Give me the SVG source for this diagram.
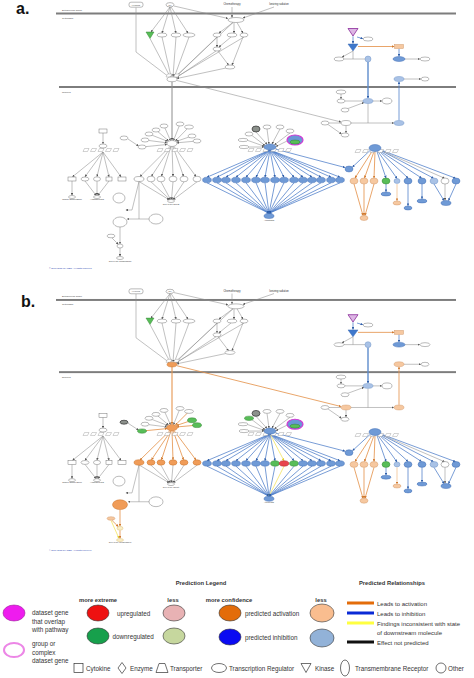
<svg xmlns="http://www.w3.org/2000/svg" width="474" height="678" viewBox="0 0 474 678">
<style>
text{font-family:"Liberation Sans",Arial,sans-serif;fill:#222}
.t{font-size:2.3px;text-anchor:middle;fill:#333}
.tl{font-size:2.4px;fill:#444}
.w{fill:#fff;stroke:#666;stroke-width:.45}
.b{fill:#6f9ad6;stroke:#3a68b0;stroke-width:.45}
.lb{fill:#a9c2e6;stroke:#6a90c4;stroke-width:.45}
.o{fill:#f09c58;stroke:#c56c22;stroke-width:.45}
.lo{fill:#f6c8a0;stroke:#cf9465;stroke-width:.45}
.g{fill:#58bd58;stroke:#2a7f2a;stroke-width:.45}
.r{fill:#e8454e;stroke:#a32020;stroke-width:.45}
.dk{fill:#8c918c;stroke:#2e2e2e;stroke-width:.7}
.ly{fill:#f9eec6;stroke:#d6b877;stroke-width:.45}
.cx{fill:#fff;stroke:#808080;stroke-width:.35}
.e,.en,.eb,.eo,.ey,.et,.eol{fill:none}
.e{stroke:#8c8c8c;stroke-width:.55;marker-end:url(#ag)}
.en{stroke:#8c8c8c;stroke-width:.55}
.eb{stroke:#4a7bc8;stroke-width:.75;marker-end:url(#ab)}
.eo{stroke:#e5954f;stroke-width:.85;marker-end:url(#ao)}
.eol{stroke:#f2c291;stroke-width:.8;marker-end:url(#ao)}
.ey{stroke:#f3e45f;stroke-width:.8;marker-end:url(#ay)}
.et{stroke:#5d8ccc;stroke-width:1.4;marker-end:url(#ab)}
.bar{fill:#7d7d7d}
.lg{font-size:6.3px;fill:#333}
.lh{font-size:5.8px;font-weight:bold;fill:#333;text-anchor:middle}
.ls{fill:none;stroke:#333;stroke-width:.7}
.pl{font-size:16px;font-weight:bold;fill:#111}
</style>
<defs>
<marker id="ag" viewBox="0 0 6 6" refX="5.5" refY="3" markerUnits="userSpaceOnUse" markerWidth="2.4" markerHeight="2.4" orient="auto"><path d="M0,0L6,3L0,6z" fill="#555"/></marker>
<marker id="ab" viewBox="0 0 6 6" refX="5.5" refY="3" markerUnits="userSpaceOnUse" markerWidth="2.6" markerHeight="2.6" orient="auto"><path d="M0,0L6,3L0,6z" fill="#2f5ea8"/></marker>
<marker id="ao" viewBox="0 0 6 6" refX="5.5" refY="3" markerUnits="userSpaceOnUse" markerWidth="2.6" markerHeight="2.6" orient="auto"><path d="M0,0L6,3L0,6z" fill="#d07a30"/></marker>
<marker id="ay" viewBox="0 0 6 6" refX="5.5" refY="3" markerUnits="userSpaceOnUse" markerWidth="2.6" markerHeight="2.6" orient="auto"><path d="M0,0L6,3L0,6z" fill="#e0cc30"/></marker>
</defs>
<rect width="474" height="678" fill="#fff"/>
<text class="pl" x="16" y="14">a.</text>
<text class="pl" x="21" y="307">b.</text>

<!-- ================= PANEL A ================= -->
<g id="panel-a">
<rect class="bar" x="56" y="12.5" width="400" height="2"/>
<rect class="bar" x="59" y="86" width="397" height="2"/>
<text class="tl" x="62" y="11">Extracellular space</text>
<text class="tl" x="62" y="18.5">Cytoplasm</text>
<text class="tl" x="62" y="92.5">Nucleus</text>
<text x="49" y="269" style="font-size:2.3px;fill:#2a3fb0">© 2000-2015 QIAGEN. All rights reserved.</text>
<g id="a-edges">
<path class="e" d="M136,7.5V52L169,77"/>
<path class="e" d="M170,7L151,32"/>
<path class="e" d="M170,7L162,33"/>
<path class="e" d="M170,7L176,33"/>
<path class="e" d="M171,7L188,33"/>
<path class="e" d="M174,6L228,18.5"/>
<path class="e" d="M232,7V17.5"/>
<path class="e" d="M274,7L243,18"/>
<path class="e" d="M233,22.5L219,33"/>
<path class="e" d="M234,22.5V33"/>
<path class="e" d="M237,22.5L243,33"/>
<path class="e" d="M217,37V47"/>
<path class="e" d="M231,37L219,47"/>
<path class="e" d="M218,51L228.5,65"/>
<path class="e" d="M243,37L232,65"/>
<path class="e" d="M150,38.5L170,76.5"/>
<path class="e" d="M162,37L171,76.5"/>
<path class="e" d="M176,37L173,76.5"/>
<path class="e" d="M189,37L174.5,76.5"/>
<path class="e" d="M233,22.5L175.5,76.5"/>
<path class="e" d="M217,37L176,76.8"/>
<path class="e" d="M244,37L176.5,77"/>
<path class="e" d="M216,51L176.5,77.5"/>
<path class="e" d="M226,68L177,78.5"/>
<path class="e" style="stroke-width:1" d="M172,81.8V140"/>
<path class="e" d="M177,80.5L341,122"/>
<path class="e" d="M353,51L342,57.2"/>
<path class="en" d="M353,51V59"/>
<path class="en" d="M344,59H365"/>
<path class="e" d="M341,94V98.8"/>
<path class="en" d="M345,101H363"/>
<path class="e" d="M373,101H381.8"/>
<path class="e" d="M348,108.5L364,102.5"/>
<path class="en" d="M329,123H341"/>
<path class="e" d="M351,123H393.8"/>
<path class="en" d="M368,103.5V123"/>
<path class="e" d="M346,125.5V132.8"/>
<path class="e" d="M328,124.5L341.5,134"/>
<path class="e" d="M405,59H419.8"/>
<path class="e" d="M404,79H420.8"/>
<path class="e" d="M103,133V143.8"/>
<path class="e" d="M103,152L72.5,176.8"/>
<path class="e" d="M103,152L85,176.8"/>
<path class="e" d="M103,152L97,176.6"/>
<path class="e" d="M103,152L109,176.8"/>
<path class="e" d="M103,152L121,176.8"/>
<path class="e" d="M72,181V195.3"/>
<path class="e" d="M85,181L96,195.3"/>
<path class="e" d="M97,181.3V195.3"/>
<path class="e" d="M109,181L98,195.3"/>
<path class="e" d="M145,140L166.8,142.8"/>
<path class="e" d="M149,134L167.5,141.3"/>
<path class="e" d="M156,130L168.5,140.8"/>
<path class="e" d="M164,126L170.5,140.5"/>
<path class="e" d="M180,124L173.5,140.5"/>
<path class="e" d="M189,127L175.5,140.8"/>
<path class="e" d="M192,136L176.5,141.3"/>
<path class="e" d="M197,141L177,142.8"/>
<path class="e" d="M142,147L167,144.5"/>
<path class="e" d="M128,139L138.5,146"/>
<path class="e" d="M170,146.5L140,176.5"/>
<path class="e" d="M171,146.5L151.5,176.2"/>
<path class="e" d="M171,146.5L161.5,176.2"/>
<path class="e" d="M172,146.5L173,176.2"/>
<path class="e" d="M173,146.5L183.5,176.2"/>
<path class="e" d="M174,146.5L196,176.5"/>
<path class="e" d="M139,181.5L169,199.7"/>
<path class="e" d="M151,181.8L170,199.6"/>
<path class="e" d="M161,181.8L170.5,199.5"/>
<path class="e" d="M173,181.8L171.5,199.5"/>
<path class="e" d="M184,181.8L172.5,199.5"/>
<path class="e" d="M197,181.8L173.5,199.6"/>
<path class="e" d="M139,181.5L132,210H125.8"/>
<path class="e" d="M139,181.5V219H127.2"/>
<path class="en" d="M149,219H139"/>
<path class="e" d="M120,227V243.8"/>
<path class="e" d="M112,238L118.3,244.3"/>
<path class="e" d="M120,248V256.3"/>
<path class="e" d="M256,132L267,144.3"/>
<path class="e" d="M267,129L269,144"/>
<path class="e" d="M280,129L272,144"/>
<path class="e" d="M290,133L274.5,144.8"/>
<path class="e" d="M252,135.5L265,145.5"/>
<path class="e" d="M248,140.5L264.3,146.3"/>
<path class="e" d="M249,147H263.8"/>
<path class="e" d="M287,141L276,146.5"/>
<path class="eb" d="M270,150L207,177.2"/>
<path class="eb" d="M270,150L217,177.2"/>
<path class="eb" d="M270,150L226,177.2"/>
<path class="eb" d="M270,150L236,177.2"/>
<path class="eb" d="M270,150L246,177.2"/>
<path class="eb" d="M270,150L256,177.2"/>
<path class="eb" d="M270,150L265,177.2"/>
<path class="eb" d="M270,150L275,177.2"/>
<path class="eb" d="M270,150L284,177.2"/>
<path class="eb" d="M270,150L294,177.2"/>
<path class="eb" d="M270,150L303,177.2"/>
<path class="eb" d="M270,150L312,177.2"/>
<path class="eb" d="M270,150L321,177.2"/>
<path class="eb" d="M270,150L331,177.2"/>
<path class="eb" d="M270,150L340,177.2"/>
<path class="eb" d="M207,182.8L269,213.3"/>
<path class="eb" d="M217,182.8L269,213.3"/>
<path class="eb" d="M226,182.8L269,213.3"/>
<path class="eb" d="M236,182.8L269,213.3"/>
<path class="eb" d="M246,182.8L269,213.3"/>
<path class="eb" d="M256,182.8L269,213.3"/>
<path class="eb" d="M265,182.8L269,213.3"/>
<path class="eb" d="M275,182.8L269,213.3"/>
<path class="eb" d="M284,182.8L269,213.3"/>
<path class="eb" d="M294,182.8L269,213.3"/>
<path class="eb" d="M303,182.8L269,213.3"/>
<path class="eb" d="M312,182.8L269,213.3"/>
<path class="eb" d="M321,182.8L269,213.3"/>
<path class="eb" d="M331,182.8L269,213.3"/>
<path class="eb" d="M340,182.8L269,213.3"/>
<path class="eb" d="M275,149L345,167.5"/>
<path class="eb" d="M370,150.5L352.5,167"/>
<path class="eo" d="M372,151.5L355,178"/>
<path class="eo" d="M374,151.5L364.5,178"/>
<path class="eo" d="M375,151.5L374,178"/>
<path class="eo" d="M354,184L363,215.5"/>
<path class="eo" d="M364,184V215.5"/>
<path class="eo" d="M374,184L365,215.5"/>
<path class="eb" d="M377,151.5L386,178"/>
<path class="eb" d="M378,151.5L397,178.5"/>
<path class="eb" d="M379,151L408,178"/>
<path class="eb" d="M380,151L421.5,178"/>
<path class="eb" d="M381,150.5L433.5,178.2"/>
<path class="e" d="M381,150.5L444.5,178.2"/>
<path class="eb" d="M381,150L455.5,178.2"/>
<path class="eb" d="M386,184V191.8"/>
<path class="eol" d="M397,184V200.8"/>
<path class="eb" d="M408,184V205.8"/>
<path class="eb" d="M422,184V198.8"/>
<path class="eb" d="M434,184L444,200.6"/>
<path class="e" d="M445,184V200.3"/>
<path class="eb" d="M456,184L448.5,200.6"/>
<path class="eb" d="M353,36.3V43.5"/>
<path class="eb" d="M357,37L362.8,38.6"/>
<path class="eb" d="M399,48.8V56.3"/>
<path class="et" d="M368,62V98"/>
<path class="eb" d="M399,120.3V81.8"/>
<path class="eo" d="M358,46.5H394.3"/>
</g>
<g id="a-hypoxia"><rect class="w" x="129" y="2.2" width="14" height="5" rx="2"/><text class="t" x="136" y="5.5">Hypoxia</text></g>
<g id="a-uv"><ellipse class="w" cx="170" cy="4.8" rx="4" ry="2.2"/><text class="t" x="170" y="5.6">UV</text></g>
<g id="a-chemo"><text class="t" x="232" y="5.3" style="font-size:2.6px">Chemotherapy</text></g>
<g id="a-ion"><text class="t" x="279" y="5.3" style="font-size:2.6px">Ionizing radiation</text></g>
<g id="a-k1"><polygon class="g" points="146,32 154,32 150,38.5"/></g>
<g id="a-c1"><ellipse class="w" cx="162" cy="35" rx="5" ry="2"/></g>
<g id="a-c2"><ellipse class="w" cx="176" cy="35" rx="5" ry="2"/></g>
<g id="a-c3"><ellipse class="w" cx="189" cy="35" rx="6" ry="2"/></g>
<g id="a-atm"><ellipse class="w" cx="236" cy="20" rx="8" ry="2.5"/></g>
<g id="a-r1"><ellipse class="w" cx="217" cy="35" rx="4" ry="2"/></g>
<g id="a-r2"><ellipse class="w" cx="232" cy="35" rx="5" ry="2"/></g>
<g id="a-r3"><ellipse class="w" cx="244" cy="35" rx="4" ry="2"/></g>
<g id="a-r4"><ellipse class="w" cx="217" cy="49" rx="4" ry="2"/></g>
<g id="a-r5"><ellipse class="w" cx="230" cy="67" rx="5" ry="2"/></g>
<g id="a-p53c"><path class="cx" d="M166,77l1.5-3h4.5l-1.5,3z m7.5,0l1.5-3h4.5l-1.5,3z"/><ellipse class="w" cx="172" cy="79.3" rx="5" ry="2.4"/></g>
<g id="a-pt"><polygon points="348,28.5 358,28.5 353,36" fill="#dcb6e4" stroke="#8a2a9a" stroke-width=".8"/></g>
<g id="a-s1"><ellipse class="w" cx="368" cy="39" rx="5" ry="2"/></g>
<g id="a-bt"><polygon class="b" points="348,44 358,44 353,51" style="fill:#3f78cc"/></g>
<g id="a-or"><rect class="lo" x="394.5" y="44.5" width="9" height="4"/></g>
<g id="a-n59"><ellipse class="b" cx="399" cy="59" rx="6" ry="2.5"/></g>
<g id="a-n59r"><ellipse class="w" cx="425" cy="59" rx="5" ry="2"/></g>
<g id="a-n59l"><ellipse class="w" cx="339" cy="59" rx="5" ry="2"/></g>
<g id="a-n59m"><ellipse class="lb" cx="368" cy="59" rx="3" ry="3"/></g>
<g id="a-p21"><ellipse class="lb" cx="399" cy="79" rx="5" ry="2.5"/></g>
<g id="a-p21r"><ellipse class="w" cx="425" cy="79" rx="4" ry="2"/></g>
<g id="a-n92"><ellipse class="w" cx="341" cy="92" rx="5" ry="2"/></g>
<g id="a-n101l"><ellipse class="w" cx="341" cy="101" rx="4" ry="2"/></g>
<g id="a-n101m"><ellipse class="lb" cx="368" cy="101" rx="5" ry="2.5"/></g>
<g id="a-n101r"><ellipse class="w" cx="387" cy="101" rx="5" ry="3"/></g>
<g id="a-n110"><ellipse class="w" cx="345" cy="110" rx="4" ry="2"/></g>
<g id="a-n123l"><ellipse class="w" cx="325" cy="123" rx="4" ry="2"/></g>
<g id="a-n123"><ellipse class="w" cx="346" cy="123" rx="5" ry="2.5"/></g>
<g id="a-n123r"><ellipse class="lb" cx="399" cy="123" rx="5" ry="2.5"/></g>
<g id="a-n135"><ellipse class="w" cx="345" cy="135" rx="4" ry="2"/></g>
<g id="a-l0"><rect class="w" x="99" y="129" width="8" height="4"/></g>
<g id="a-l1"><path class="cx" d="M83,151.5l1.5-3h4.5l-1.5,3z m7.5,0l1.5-3h4.5l-1.5,3z m7.5,0l1.5-3h4.5l-1.5,3z m7.5,0l1.5-3h4.5l-1.5,3z m7.5,0l1.5-3h4.5l-1.5,3z"/><ellipse class="w" cx="103" cy="146" rx="4" ry="2"/></g>
<g id="a-l2"><rect class="w" x="68" y="177" width="8" height="4"/></g>
<g id="a-l3"><ellipse class="w" cx="85" cy="179" rx="4" ry="2"/></g>
<g id="a-l4"><ellipse class="w" cx="97" cy="179" rx="3.5" ry="2.2"/></g>
<g id="a-l5"><rect class="w" x="106" y="177" width="6" height="4"/></g>
<g id="a-l6"><rect class="w" x="118" y="177" width="8" height="4"/></g>
<g id="a-ts"><ellipse class="w" cx="72" cy="197" rx="3.5" ry="1.5"/><text class="t" x="72" y="200.3">Tumor suppression</text></g>
<g id="a-ang"><ellipse class="w" cx="97" cy="197" rx="3.5" ry="1.5"/><text class="t" x="97" y="200.3">Angiogenesis</text></g>
<g id="a-p53n"><path class="cx" d="M157,151.5l1.5-3h4.5l-1.5,3z m7.5,0l1.5-3h4.5l-1.5,3z m7.5,0l1.5-3h4.5l-1.5,3z m7.5,0l1.5-3h4.5l-1.5,3z m7.5,0l1.5-3h4.5l-1.5,3z"/><ellipse class="w" cx="172" cy="143.5" rx="5" ry="3"/></g>
<g id="a-sa1"><ellipse class="w" cx="124" cy="138" rx="4" ry="2"/></g>
<g id="a-sa2"><ellipse class="w" cx="142" cy="147" rx="4" ry="2"/></g>
<g id="a-sa3"><ellipse class="w" cx="145" cy="140" rx="4" ry="2"/></g>
<g id="a-sa4"><ellipse class="w" cx="149" cy="134" rx="4" ry="2"/></g>
<g id="a-sa5"><ellipse class="w" cx="156" cy="130" rx="4" ry="2"/></g>
<g id="a-sa6"><ellipse class="w" cx="164" cy="126" rx="4" ry="2"/></g>
<g id="a-sa7"><ellipse class="w" cx="180" cy="124" rx="4" ry="2"/></g>
<g id="a-sa8"><ellipse class="w" cx="189" cy="127" rx="4.5" ry="2"/></g>
<g id="a-sa9"><ellipse class="w" cx="192" cy="136" rx="4" ry="2"/></g>
<g id="a-sa10"><ellipse class="w" cx="197" cy="141" rx="4" ry="2"/></g>
<g id="a-ro1"><ellipse class="w" cx="139" cy="179" rx="5" ry="2.5"/></g>
<g id="a-ro2"><ellipse class="w" cx="151" cy="179" rx="4" ry="2.8"/></g>
<g id="a-ro3"><ellipse class="w" cx="161" cy="179" rx="4" ry="2.8"/></g>
<g id="a-ro4"><ellipse class="w" cx="173" cy="179" rx="4" ry="2.8"/></g>
<g id="a-ro5"><ellipse class="w" cx="184" cy="179" rx="4" ry="2.8"/></g>
<g id="a-ro6"><ellipse class="w" cx="197" cy="179" rx="4" ry="2.8"/></g>
<g id="a-cca"><ellipse class="w" cx="171" cy="201" rx="3.5" ry="1.5"/><text class="t" x="171" y="204.5">Cell cycle arrest</text></g>
<g id="a-ck1"><ellipse class="w" cx="119" cy="198" rx="6" ry="5"/></g>
<g id="a-rb"><ellipse class="w" cx="120" cy="222" rx="7" ry="5"/></g>
<g id="a-ck2"><ellipse class="w" cx="156" cy="219" rx="7" ry="5"/></g>
<g id="a-e2"><ellipse class="w" cx="111" cy="236" rx="4" ry="1.8"/></g>
<g id="a-e3"><ellipse class="w" cx="120" cy="246" rx="3" ry="2"/></g>
<g id="a-ccp"><ellipse class="w" cx="120" cy="258" rx="3.5" ry="1.5"/><text class="t" x="120" y="261.5">Cell cycle progression</text></g>
<g id="a-bc"><path class="cx" d="M248,151.5l1.5-3h4.5l-1.5,3z m7.5,0l1.5-3h4.5l-1.5,3z m7.5,0l1.5-3h4.5l-1.5,3z m7.5,0l1.5-3h4.5l-1.5,3z m7.5,0l1.5-3h4.5l-1.5,3z m7.5,0l1.5-3h4.5l-1.5,3z"/><ellipse class="b" cx="270" cy="147" rx="6" ry="3"/></g>
<g id="a-bs1"><ellipse class="dk" cx="256" cy="129" rx="4" ry="3"/></g>
<g id="a-bs2"><ellipse class="w" cx="267" cy="127" rx="4" ry="2"/></g>
<g id="a-bs3"><ellipse class="w" cx="280" cy="127" rx="4" ry="2"/></g>
<g id="a-bs4"><ellipse class="w" cx="290" cy="131" rx="4" ry="2"/></g>
<g id="a-bs5"><ellipse class="w" cx="249" cy="134" rx="4" ry="2"/></g>
<g id="a-bs6"><ellipse class="w" cx="243" cy="140" rx="5" ry="1.6"/></g>
<g id="a-bs7"><ellipse class="w" cx="244" cy="147" rx="5" ry="1.6"/></g>
<g id="a-mag"><ellipse cx="295" cy="140" rx="8" ry="5" fill="#6a96d6" stroke="#d338d3" stroke-width="1.2"/><ellipse class="g" cx="295" cy="142" rx="5" ry="2"/></g>
<g id="a-bn1"><ellipse class="b" cx="207" cy="180" rx="4.4" ry="2.8"/></g>
<g id="a-bn2"><ellipse class="b" cx="217" cy="180" rx="4.4" ry="2.8"/></g>
<g id="a-bn3"><ellipse class="b" cx="226" cy="180" rx="4.4" ry="2.8"/></g>
<g id="a-bn4"><ellipse class="b" cx="236" cy="180" rx="4.4" ry="2.8"/></g>
<g id="a-bn5"><ellipse class="b" cx="246" cy="180" rx="4.4" ry="2.8"/></g>
<g id="a-bn6"><ellipse class="b" cx="256" cy="180" rx="4.4" ry="2.8"/></g>
<g id="a-bn7"><ellipse class="b" cx="265" cy="180" rx="4.4" ry="2.8"/></g>
<g id="a-bn8"><ellipse class="b" cx="275" cy="180" rx="4.4" ry="2.8"/></g>
<g id="a-bn9"><ellipse class="b" cx="284" cy="180" rx="4.4" ry="2.8"/></g>
<g id="a-bn10"><ellipse class="b" cx="294" cy="180" rx="4.4" ry="2.8"/></g>
<g id="a-bn11"><ellipse class="b" cx="303" cy="180" rx="4.4" ry="2.8"/></g>
<g id="a-bn12"><ellipse class="b" cx="312" cy="180" rx="4.4" ry="2.8"/></g>
<g id="a-bn13"><ellipse class="b" cx="321" cy="180" rx="4.4" ry="2.8"/></g>
<g id="a-bn14"><ellipse class="b" cx="331" cy="180" rx="4.4" ry="2.8"/></g>
<g id="a-bn15"><ellipse class="b" cx="340" cy="180" rx="4.4" ry="2.8"/></g>
<g id="a-apo"><ellipse class="b" cx="269" cy="216" rx="5" ry="2.5"/><text class="t" x="269" y="220.5">Apoptosis</text></g>
<g id="a-br"><ellipse class="b" cx="349" cy="169" rx="4" ry="3"/></g>
<g id="a-rc"><path class="cx" d="M355,152.5l1.5-3h4.5l-1.5,3z m7.5,0l1.5-3h4.5l-1.5,3z m7.5,0l1.5-3h4.5l-1.5,3z m7.5,0l1.5-3h4.5l-1.5,3z m7.5,0l1.5-3h4.5l-1.5,3z m7.5,0l1.5-3h4.5l-1.5,3z"/><ellipse class="b" cx="375" cy="148" rx="6" ry="3.5"/></g>
<g id="a-rr1"><ellipse class="lo" cx="354" cy="181" rx="4" ry="3"/></g>
<g id="a-rr2"><ellipse class="lo" cx="364" cy="181" rx="4" ry="3"/></g>
<g id="a-rr3"><ellipse class="lo" cx="374" cy="181" rx="4" ry="3"/></g>
<g id="a-rr4"><ellipse class="g" cx="386" cy="181" rx="4" ry="3"/></g>
<g id="a-rr5"><ellipse class="lb" cx="397" cy="181" rx="3" ry="2.5"/></g>
<g id="a-rr6"><ellipse class="b" cx="408" cy="181" rx="4" ry="3"/></g>
<g id="a-rr7"><ellipse class="b" cx="422" cy="181" rx="4" ry="3"/></g>
<g id="a-rr8"><ellipse class="lb" cx="434" cy="181" rx="4" ry="3"/></g>
<g id="a-rr9"><ellipse class="w" cx="445" cy="181" rx="4" ry="3"/></g>
<g id="a-rr10"><ellipse class="b" cx="456" cy="181" rx="4" ry="3"/></g>
<g id="a-rb1"><ellipse class="b" cx="386" cy="194" rx="5" ry="2"/></g>
<g id="a-rb2"><ellipse class="lo" cx="397" cy="203" rx="4" ry="2"/></g>
<g id="a-rb3"><ellipse class="b" cx="408" cy="208" rx="4" ry="2"/></g>
<g id="a-rb4"><ellipse class="b" cx="422" cy="201" rx="5" ry="2"/></g>
<g id="a-rb5"><ellipse class="b" cx="446" cy="203" rx="5" ry="2.5"/></g>
<g id="a-rb6"><ellipse class="lo" cx="364" cy="218" rx="4" ry="2.5"/></g>
</g>

<!-- ================= PANEL B ================= -->
<g id="panel-b" transform="matrix(1 0 0 0.982 0 286.7)">
<rect class="bar" x="56" y="12.5" width="400" height="2"/>
<rect class="bar" x="59" y="86" width="397" height="2"/>
<text class="tl" x="62" y="11">Extracellular space</text>
<text class="tl" x="62" y="18.5">Cytoplasm</text>
<text class="tl" x="62" y="92.5">Nucleus</text>
<text x="49" y="269" style="font-size:2.3px;fill:#2a3fb0">© 2000-2015 QIAGEN. All rights reserved.</text>
<g id="b-edges">
<path class="e" d="M136,7.5V52L169,77"/>
<path class="e" d="M170,7L151,32"/>
<path class="e" d="M170,7L162,33"/>
<path class="e" d="M170,7L176,33"/>
<path class="e" d="M171,7L188,33"/>
<path class="e" d="M174,6L228,18.5"/>
<path class="e" d="M232,7V17.5"/>
<path class="e" d="M274,7L243,18"/>
<path class="e" d="M233,22.5L219,33"/>
<path class="e" d="M234,22.5V33"/>
<path class="e" d="M237,22.5L243,33"/>
<path class="e" d="M217,37V47"/>
<path class="e" d="M231,37L219,47"/>
<path class="e" d="M218,51L228.5,65"/>
<path class="e" d="M243,37L232,65"/>
<path class="e" d="M150,38.5L170,76.5"/>
<path class="e" d="M162,37L171,76.5"/>
<path class="e" d="M176,37L173,76.5"/>
<path class="e" d="M189,37L174.5,76.5"/>
<path class="e" d="M233,22.5L175.5,76.5"/>
<path class="e" d="M217,37L176,76.8"/>
<path class="e" d="M244,37L176.5,77"/>
<path class="e" d="M216,51L176.5,77.5"/>
<path class="e" d="M226,68L177,78.5"/>
<path class="eo" style="stroke-width:1.1" d="M172,81.8V140"/>
<path class="eo" d="M177,80.5L341,122"/>
<path class="e" d="M353,51L342,57.2"/>
<path class="en" d="M353,51V59"/>
<path class="en" d="M344,59H365"/>
<path class="e" d="M341,94V98.8"/>
<path class="en" d="M345,101H363"/>
<path class="e" d="M373,101H381.8"/>
<path class="e" d="M348,108.5L364,102.5"/>
<path class="en" d="M329,123H341"/>
<path class="e" d="M351,123H393.8"/>
<path class="en" d="M368,103.5V123"/>
<path class="e" d="M346,125.5V132.8"/>
<path class="e" d="M328,124.5L341.5,134"/>
<path class="e" d="M405,59H419.8"/>
<path class="e" d="M404,79H420.8"/>
<path class="e" d="M103,133V143.8"/>
<path class="e" d="M103,152L72.5,176.8"/>
<path class="e" d="M103,152L85,176.8"/>
<path class="e" d="M103,152L97,176.6"/>
<path class="e" d="M103,152L109,176.8"/>
<path class="e" d="M103,152L121,176.8"/>
<path class="e" d="M72,181V195.3"/>
<path class="e" d="M85,181L96,195.3"/>
<path class="e" d="M97,181.3V195.3"/>
<path class="e" d="M109,181L98,195.3"/>
<path class="e" d="M145,140L166.8,142.8"/>
<path class="e" d="M149,134L167.5,141.3"/>
<path class="e" d="M156,130L168.5,140.8"/>
<path class="e" d="M164,126L170.5,140.5"/>
<path class="e" d="M180,124L173.5,140.5"/>
<path class="eo" d="M189,127L175.5,140.8"/>
<path class="eo" d="M192,136L176.5,141.3"/>
<path class="eo" d="M197,141L177,142.8"/>
<path class="eo" d="M142,147L167,144.5"/>
<path class="e" d="M128,139L138.5,146"/>
<path class="eo" d="M170,146.5L140,176.5"/>
<path class="eo" d="M171,146.5L151.5,176.2"/>
<path class="eo" d="M171,146.5L161.5,176.2"/>
<path class="eo" d="M172,146.5L173,176.2"/>
<path class="eo" d="M173,146.5L183.5,176.2"/>
<path class="eo" d="M174,146.5L196,176.5"/>
<path class="e" d="M139,181.5L169,199.7"/>
<path class="e" d="M151,181.8L170,199.6"/>
<path class="e" d="M161,181.8L170.5,199.5"/>
<path class="e" d="M173,181.8L171.5,199.5"/>
<path class="e" d="M184,181.8L172.5,199.5"/>
<path class="e" d="M197,181.8L173.5,199.6"/>
<path class="e" d="M139,181.5L132,210H125.8"/>
<path class="e" d="M139,181.5V219H128.2"/>
<path class="en" d="M149,219H139"/>
<path class="eo" d="M120,227V243.8"/>
<path class="eo" d="M112,238L118.3,244.3"/>
<path class="ey" d="M111,238L119,256.3"/>
<path class="eo" d="M120,248V256.3"/>
<path class="e" d="M256,132L267,144.3"/>
<path class="e" d="M267,129L269,144"/>
<path class="e" d="M280,129L272,144"/>
<path class="e" d="M290,133L274.5,144.8"/>
<path class="e" d="M252,135.5L265,145.5"/>
<path class="e" d="M248,140.5L264.3,146.3"/>
<path class="e" d="M249,147H263.8"/>
<path class="e" d="M287,141L276,146.5"/>
<path class="eb" d="M270,150L207,177.2"/>
<path class="eb" d="M270,150L217,177.2"/>
<path class="eb" d="M270,150L226,177.2"/>
<path class="eb" d="M270,150L236,177.2"/>
<path class="eb" d="M270,150L246,177.2"/>
<path class="eb" d="M270,150L256,177.2"/>
<path class="eb" d="M270,150L265,177.2"/>
<path class="eb" d="M270,150L275,177.2"/>
<path class="ey" d="M270,150L284,177.2"/>
<path class="eb" d="M270,150L294,177.2"/>
<path class="eb" d="M270,150L303,177.2"/>
<path class="eb" d="M270,150L312,177.2"/>
<path class="eb" d="M270,150L321,177.2"/>
<path class="eb" d="M270,150L331,177.2"/>
<path class="eb" d="M270,150L340,177.2"/>
<path class="eb" d="M207,182.8L269,213.3"/>
<path class="eb" d="M217,182.8L269,213.3"/>
<path class="eb" d="M226,182.8L269,213.3"/>
<path class="eb" d="M236,182.8L269,213.3"/>
<path class="eb" d="M246,182.8L269,213.3"/>
<path class="eb" d="M256,182.8L269,213.3"/>
<path class="eb" d="M265,182.8L269,213.3"/>
<path class="eb" d="M275,182.8L269,213.3"/>
<path class="ey" d="M284,182.8L269,213.3"/>
<path class="eb" d="M294,182.8L269,213.3"/>
<path class="eb" d="M303,182.8L269,213.3"/>
<path class="eb" d="M312,182.8L269,213.3"/>
<path class="eb" d="M321,182.8L269,213.3"/>
<path class="eb" d="M331,182.8L269,213.3"/>
<path class="eb" d="M340,182.8L269,213.3"/>
<path class="eb" d="M275,149L345,167.5"/>
<path class="eb" d="M370,150.5L352.5,167"/>
<path class="eo" d="M372,151.5L355,178"/>
<path class="eo" d="M374,151.5L364.5,178"/>
<path class="eo" d="M375,151.5L374,178"/>
<path class="eo" d="M354,184L363,215.5"/>
<path class="eo" d="M364,184V215.5"/>
<path class="eo" d="M374,184L365,215.5"/>
<path class="eb" d="M377,151.5L386,178"/>
<path class="eb" d="M378,151.5L397,178.5"/>
<path class="eb" d="M379,151L408,178"/>
<path class="eb" d="M380,151L421.5,178"/>
<path class="eb" d="M381,150.5L433.5,178.2"/>
<path class="e" d="M381,150.5L444.5,178.2"/>
<path class="eb" d="M381,150L455.5,178.2"/>
<path class="eb" d="M386,184V191.8"/>
<path class="eol" d="M397,184V200.8"/>
<path class="eb" d="M408,184V205.8"/>
<path class="eb" d="M422,184V198.8"/>
<path class="eb" d="M434,184L444,200.6"/>
<path class="e" d="M445,184V200.3"/>
<path class="eb" d="M456,184L448.5,200.6"/>
<path class="eb" d="M353,36.3V43.5"/>
<path class="eb" d="M357,37L362.8,38.6"/>
<path class="eb" d="M399,48.8V56.3"/>
<path class="et" d="M368,62V98"/>
<path class="eo" d="M399,120.3V81.8"/>
<path class="eo" d="M358,46.5H394.3"/>
</g>
<g id="b-hypoxia"><rect class="w" x="129" y="2.2" width="14" height="5" rx="2"/><text class="t" x="136" y="5.5">Hypoxia</text></g>
<g id="b-uv"><ellipse class="w" cx="170" cy="4.8" rx="4" ry="2.2"/><text class="t" x="170" y="5.6">UV</text></g>
<g id="b-chemo"><text class="t" x="232" y="5.3" style="font-size:2.6px">Chemotherapy</text></g>
<g id="b-ion"><text class="t" x="279" y="5.3" style="font-size:2.6px">Ionizing radiation</text></g>
<g id="b-k1"><polygon class="g" points="146,32 154,32 150,38.5"/></g>
<g id="b-c1"><ellipse class="w" cx="162" cy="35" rx="5" ry="2"/></g>
<g id="b-c2"><ellipse class="w" cx="176" cy="35" rx="5" ry="2"/></g>
<g id="b-c3"><ellipse class="w" cx="189" cy="35" rx="6" ry="2"/></g>
<g id="b-atm"><ellipse class="w" cx="236" cy="20" rx="8" ry="2.5"/></g>
<g id="b-r1"><ellipse class="w" cx="217" cy="35" rx="4" ry="2"/></g>
<g id="b-r2"><ellipse class="w" cx="232" cy="35" rx="5" ry="2"/></g>
<g id="b-r3"><ellipse class="w" cx="244" cy="35" rx="4" ry="2"/></g>
<g id="b-r4"><ellipse class="w" cx="217" cy="49" rx="4" ry="2"/></g>
<g id="b-r5"><ellipse class="w" cx="230" cy="67" rx="5" ry="2"/></g>
<g id="b-p53c"><path class="cx" d="M166,77l1.5-3h4.5l-1.5,3z m7.5,0l1.5-3h4.5l-1.5,3z"/><ellipse class="o" cx="172" cy="79.3" rx="5" ry="2.4"/></g>
<g id="b-pt"><polygon points="348,28.5 358,28.5 353,36" fill="#dcb6e4" stroke="#8a2a9a" stroke-width=".8"/></g>
<g id="b-s1"><ellipse class="w" cx="368" cy="39" rx="5" ry="2"/></g>
<g id="b-bt"><polygon class="b" points="348,44 358,44 353,51" style="fill:#3f78cc"/></g>
<g id="b-or"><rect class="lo" x="394.5" y="44.5" width="9" height="4"/></g>
<g id="b-n59"><ellipse class="b" cx="399" cy="59" rx="6" ry="2.5"/></g>
<g id="b-n59r"><ellipse class="w" cx="425" cy="59" rx="5" ry="2"/></g>
<g id="b-n59l"><ellipse class="w" cx="339" cy="59" rx="5" ry="2"/></g>
<g id="b-n59m"><ellipse class="lb" cx="368" cy="59" rx="3" ry="3"/></g>
<g id="b-p21"><ellipse class="lo" cx="399" cy="79" rx="5" ry="2.5"/></g>
<g id="b-p21r"><ellipse class="w" cx="425" cy="79" rx="4" ry="2"/></g>
<g id="b-n92"><ellipse class="w" cx="341" cy="92" rx="5" ry="2"/></g>
<g id="b-n101l"><ellipse class="w" cx="341" cy="101" rx="4" ry="2"/></g>
<g id="b-n101m"><ellipse class="lb" cx="368" cy="101" rx="5" ry="2.5"/></g>
<g id="b-n101r"><ellipse class="w" cx="387" cy="101" rx="5" ry="3"/></g>
<g id="b-n110"><ellipse class="w" cx="345" cy="110" rx="4" ry="2"/></g>
<g id="b-n123l"><ellipse class="w" cx="325" cy="123" rx="4" ry="2"/></g>
<g id="b-n123"><ellipse class="lo" cx="346" cy="123" rx="5" ry="2.5"/></g>
<g id="b-n123r"><ellipse class="lo" cx="399" cy="123" rx="5" ry="2.5"/></g>
<g id="b-n135"><ellipse class="w" cx="345" cy="135" rx="4" ry="2"/></g>
<g id="b-l0"><rect class="w" x="99" y="129" width="8" height="4"/></g>
<g id="b-l1"><path class="cx" d="M83,151.5l1.5-3h4.5l-1.5,3z m7.5,0l1.5-3h4.5l-1.5,3z m7.5,0l1.5-3h4.5l-1.5,3z m7.5,0l1.5-3h4.5l-1.5,3z m7.5,0l1.5-3h4.5l-1.5,3z"/><ellipse class="w" cx="103" cy="146" rx="4" ry="2"/></g>
<g id="b-l2"><rect class="w" x="68" y="177" width="8" height="4"/></g>
<g id="b-l3"><ellipse class="w" cx="85" cy="179" rx="4" ry="2"/></g>
<g id="b-l4"><ellipse class="w" cx="97" cy="179" rx="3.5" ry="2.2"/></g>
<g id="b-l5"><rect class="w" x="106" y="177" width="6" height="4"/></g>
<g id="b-l6"><rect class="w" x="118" y="177" width="8" height="4"/></g>
<g id="b-ts"><ellipse class="w" cx="72" cy="197" rx="3.5" ry="1.5"/><text class="t" x="72" y="200.3">Tumor suppression</text></g>
<g id="b-ang"><ellipse class="w" cx="97" cy="197" rx="3.5" ry="1.5"/><text class="t" x="97" y="200.3">Angiogenesis</text></g>
<g id="b-p53n"><path class="cx" d="M157,151.5l1.5-3h4.5l-1.5,3z m7.5,0l1.5-3h4.5l-1.5,3z m7.5,0l1.5-3h4.5l-1.5,3z m7.5,0l1.5-3h4.5l-1.5,3z m7.5,0l1.5-3h4.5l-1.5,3z"/><ellipse class="o" cx="172" cy="143.5" rx="5.5" ry="3.2"/></g>
<g id="b-sa1"><ellipse class="dk" cx="124" cy="138" rx="4" ry="2"/></g>
<g id="b-sa2"><ellipse class="g" cx="142" cy="147" rx="4.5" ry="2.2"/></g>
<g id="b-sa3"><ellipse class="w" cx="145" cy="140" rx="4" ry="2"/></g>
<g id="b-sa4"><ellipse class="w" cx="149" cy="134" rx="4" ry="2"/></g>
<g id="b-sa5"><ellipse class="w" cx="156" cy="130" rx="4" ry="2"/></g>
<g id="b-sa6"><ellipse class="w" cx="164" cy="126" rx="4" ry="2"/></g>
<g id="b-sa7"><ellipse class="w" cx="180" cy="124" rx="4" ry="2"/></g>
<g id="b-sa8"><ellipse class="w" cx="189" cy="127" rx="4.5" ry="2"/></g>
<g id="b-sa9"><ellipse class="g" cx="192" cy="136" rx="4.5" ry="2.5"/></g>
<g id="b-sa10"><ellipse class="g" cx="197" cy="141" rx="4.5" ry="2.5"/></g>
<g id="b-ro1"><ellipse class="o" cx="139" cy="179" rx="5" ry="2.8"/></g>
<g id="b-ro2"><ellipse class="o" cx="151" cy="179" rx="4" ry="2.8"/></g>
<g id="b-ro3"><ellipse class="o" cx="161" cy="179" rx="4" ry="2.8"/></g>
<g id="b-ro4"><ellipse class="o" cx="173" cy="179" rx="4" ry="2.8"/></g>
<g id="b-ro5"><ellipse class="o" cx="184" cy="179" rx="4" ry="2.8"/></g>
<g id="b-ro6"><ellipse class="o" cx="197" cy="179" rx="4" ry="2.8"/></g>
<g id="b-cca"><ellipse class="w" cx="171" cy="201" rx="3.5" ry="1.5"/><text class="t" x="171" y="204.5">Cell cycle arrest</text></g>
<g id="b-ck1"><ellipse class="w" cx="119" cy="198" rx="6" ry="5"/></g>
<g id="b-rb"><ellipse class="o" cx="120" cy="222" rx="7.5" ry="5"/></g>
<g id="b-ck2"><ellipse class="w" cx="156" cy="219" rx="7" ry="5"/></g>
<g id="b-e2"><ellipse class="lo" cx="111" cy="236" rx="4" ry="1.8"/></g>
<g id="b-e3"><ellipse class="ly" cx="120" cy="246" rx="3" ry="2"/></g>
<g id="b-ccp"><ellipse class="ly" cx="120" cy="258" rx="3.5" ry="1.5"/><text class="t" x="120" y="261.5">Cell cycle progression</text></g>
<g id="b-bc"><path class="cx" d="M248,151.5l1.5-3h4.5l-1.5,3z m7.5,0l1.5-3h4.5l-1.5,3z m7.5,0l1.5-3h4.5l-1.5,3z m7.5,0l1.5-3h4.5l-1.5,3z m7.5,0l1.5-3h4.5l-1.5,3z m7.5,0l1.5-3h4.5l-1.5,3z"/><ellipse class="b" cx="270" cy="147" rx="6" ry="3"/></g>
<g id="b-bs1"><ellipse class="dk" cx="256" cy="129" rx="4" ry="3"/></g>
<g id="b-bs2"><ellipse class="w" cx="267" cy="127" rx="4" ry="2"/></g>
<g id="b-bs3"><ellipse class="w" cx="280" cy="127" rx="4" ry="2"/></g>
<g id="b-bs4"><ellipse class="w" cx="290" cy="131" rx="4" ry="2"/></g>
<g id="b-bs5"><ellipse class="g" cx="249" cy="134" rx="4.5" ry="2.2"/></g>
<g id="b-bs6"><ellipse class="w" cx="243" cy="140" rx="5" ry="1.6"/></g>
<g id="b-bs7"><ellipse class="w" cx="244" cy="147" rx="5" ry="1.6"/></g>
<g id="b-mag"><ellipse cx="295" cy="140" rx="8" ry="5" fill="#6a96d6" stroke="#d338d3" stroke-width="1.2"/><ellipse class="g" cx="295" cy="142" rx="5" ry="2"/></g>
<g id="b-bn1"><ellipse class="b" cx="207" cy="180" rx="4.4" ry="2.8"/></g>
<g id="b-bn2"><ellipse class="b" cx="217" cy="180" rx="4.4" ry="2.8"/></g>
<g id="b-bn3"><ellipse class="b" cx="226" cy="180" rx="4.4" ry="2.8"/></g>
<g id="b-bn4"><ellipse class="b" cx="236" cy="180" rx="4.4" ry="2.8"/></g>
<g id="b-bn5"><ellipse class="b" cx="246" cy="180" rx="4.4" ry="2.8"/></g>
<g id="b-bn6"><ellipse class="b" cx="256" cy="180" rx="4.4" ry="2.8"/></g>
<g id="b-bn7"><ellipse class="b" cx="265" cy="180" rx="4.4" ry="2.8"/></g>
<g id="b-bn8"><ellipse class="g" cx="275" cy="180" rx="4.4" ry="2.8"/></g>
<g id="b-bn9"><ellipse class="r" cx="284" cy="180" rx="4.8" ry="2.8"/></g>
<g id="b-bn10"><ellipse class="g" cx="294" cy="180" rx="4.4" ry="2.8"/></g>
<g id="b-bn11"><ellipse class="b" cx="303" cy="180" rx="4.4" ry="2.8"/></g>
<g id="b-bn12"><ellipse class="b" cx="312" cy="180" rx="4.4" ry="2.8"/></g>
<g id="b-bn13"><ellipse class="b" cx="321" cy="180" rx="4.4" ry="2.8"/></g>
<g id="b-bn14"><ellipse class="b" cx="331" cy="180" rx="4.4" ry="2.8"/></g>
<g id="b-bn15"><ellipse class="b" cx="340" cy="180" rx="4.4" ry="2.8"/></g>
<g id="b-apo"><ellipse class="b" cx="269" cy="216" rx="5" ry="2.5"/><text class="t" x="269" y="220.5">Apoptosis</text></g>
<g id="b-br"><ellipse class="b" cx="349" cy="169" rx="4" ry="3"/></g>
<g id="b-rc"><path class="cx" d="M355,152.5l1.5-3h4.5l-1.5,3z m7.5,0l1.5-3h4.5l-1.5,3z m7.5,0l1.5-3h4.5l-1.5,3z m7.5,0l1.5-3h4.5l-1.5,3z m7.5,0l1.5-3h4.5l-1.5,3z m7.5,0l1.5-3h4.5l-1.5,3z"/><ellipse class="b" cx="375" cy="148" rx="6" ry="3.5"/></g>
<g id="b-rr1"><ellipse class="lo" cx="354" cy="181" rx="4" ry="3"/></g>
<g id="b-rr2"><ellipse class="lo" cx="364" cy="181" rx="4" ry="3"/></g>
<g id="b-rr3"><ellipse class="lo" cx="374" cy="181" rx="4" ry="3"/></g>
<g id="b-rr4"><ellipse class="g" cx="386" cy="181" rx="4" ry="3"/></g>
<g id="b-rr5"><ellipse class="lb" cx="397" cy="181" rx="3" ry="2.5"/></g>
<g id="b-rr6"><ellipse class="b" cx="408" cy="181" rx="4" ry="3"/></g>
<g id="b-rr7"><ellipse class="b" cx="422" cy="181" rx="4" ry="3"/></g>
<g id="b-rr8"><ellipse class="lb" cx="434" cy="181" rx="4" ry="3"/></g>
<g id="b-rr9"><ellipse class="w" cx="445" cy="181" rx="4" ry="3"/></g>
<g id="b-rr10"><ellipse class="b" cx="456" cy="181" rx="4" ry="3"/></g>
<g id="b-rb1"><ellipse class="b" cx="386" cy="194" rx="5" ry="2"/></g>
<g id="b-rb2"><ellipse class="lo" cx="397" cy="203" rx="4" ry="2"/></g>
<g id="b-rb3"><ellipse class="b" cx="408" cy="208" rx="4" ry="2"/></g>
<g id="b-rb4"><ellipse class="b" cx="422" cy="201" rx="5" ry="2"/></g>
<g id="b-rb5"><ellipse class="b" cx="446" cy="203" rx="5" ry="2.5"/></g>
<g id="b-rb6"><ellipse class="lo" cx="364" cy="218" rx="4" ry="2.5"/></g>
</g>

<!-- ================= LEGEND ================= -->
<g id="legend">
<text class="lh" x="201" y="585">Prediction Legend</text>
<text class="lh" x="392" y="585">Predicted Relationships</text>
<text class="lh" x="98" y="602">more extreme</text>
<text class="lh" x="173" y="602">less</text>
<text class="lh" x="229" y="602">more confidence</text>
<text class="lh" x="321" y="602">less</text>
<g id="lg-overlap"><ellipse cx="14" cy="613" rx="11" ry="8" fill="#ee1cee" stroke="#9a209a" stroke-width=".6"/>
<text class="lg" x="32" y="615">dataset gene</text><text class="lg" x="32" y="623.5">that overlap</text><text class="lg" x="32" y="632">with pathway</text></g>
<g id="lg-group"><ellipse cx="14" cy="650" rx="10" ry="7" fill="#fff" stroke="#ec86e6" stroke-width="2"/>
<text class="lg" x="32" y="646">group or</text><text class="lg" x="32" y="654.5">complex</text><text class="lg" x="32" y="663">dataset gene</text></g>
<ellipse cx="98" cy="613" rx="11" ry="8" fill="#ee1111" stroke="#333" stroke-width=".6"/>
<ellipse cx="174" cy="613" rx="11" ry="8" fill="#e8b2b4" stroke="#333" stroke-width=".6"/>
<ellipse cx="98" cy="636" rx="11" ry="8" fill="#17a04c" stroke="#333" stroke-width=".6"/>
<ellipse cx="174" cy="636" rx="11" ry="8" fill="#c6d79e" stroke="#333" stroke-width=".6"/>
<text class="lg" x="117" y="615.5">upregulated</text>
<text class="lg" x="112.5" y="638.5">downregulated</text>
<ellipse cx="230" cy="613" rx="11" ry="8" fill="#e36c0a" stroke="#333" stroke-width=".6"/>
<ellipse cx="322" cy="613" rx="12" ry="9" fill="#f9bd8f" stroke="#333" stroke-width=".6"/>
<ellipse cx="230" cy="637" rx="11" ry="8" fill="#0a0af2" stroke="#333" stroke-width=".6"/>
<ellipse cx="322" cy="638" rx="12" ry="9" fill="#92b2d8" stroke="#333" stroke-width=".6"/>
<text class="lg" x="245" y="616">predicted activation</text>
<text class="lg" x="245" y="639.5">predicted inhibition</text>
<rect x="347" y="601.5" width="27" height="3" fill="#e36c0a"/>
<rect x="347" y="611.5" width="27" height="3" fill="#0a2ad6"/>
<rect x="347" y="621.5" width="27" height="3" fill="#ffff40"/>
<rect x="347" y="640.5" width="27" height="3" fill="#111"/>
<text class="lg" x="377" y="605.5" style="font-size:6px">Leads to activation</text>
<text class="lg" x="377" y="615.5" style="font-size:6px">Leads to inhibition</text>
<text class="lg" x="377" y="625.5" style="font-size:6px">Findings inconsistent with state</text>
<text class="lg" x="377" y="634.5" style="font-size:6px">of downstream molecule</text>
<text class="lg" x="377" y="644.5" style="font-size:6px">Effect not predicted</text>
<rect class="ls" x="74" y="663.5" width="9" height="9"/>
<text class="lg" x="86" y="671">Cytokine</text>
<polygon class="ls" points="122,662.5 126,668 122,673.5 118,668"/>
<text class="lg" x="130" y="671">Enzyme</text>
<polygon class="ls" points="156,672.5 159,663.5 165,663.5 168,672.5"/>
<text class="lg" x="170" y="671">Transporter</text>
<ellipse class="ls" cx="219" cy="668" rx="7.5" ry="4.5"/>
<text class="lg" x="229" y="671">Transcription Regulator</text>
<polygon class="ls" points="301,663.5 311,663.5 306,672.5"/>
<text class="lg" x="315" y="671">Kinase</text>
<ellipse class="ls" cx="345" cy="668" rx="4.5" ry="8"/>
<text class="lg" x="355" y="671">Transmembrane Receptor</text>
<circle class="ls" cx="441" cy="668" r="5"/>
<text class="lg" x="448" y="671">Other</text>
</g>
</svg>
